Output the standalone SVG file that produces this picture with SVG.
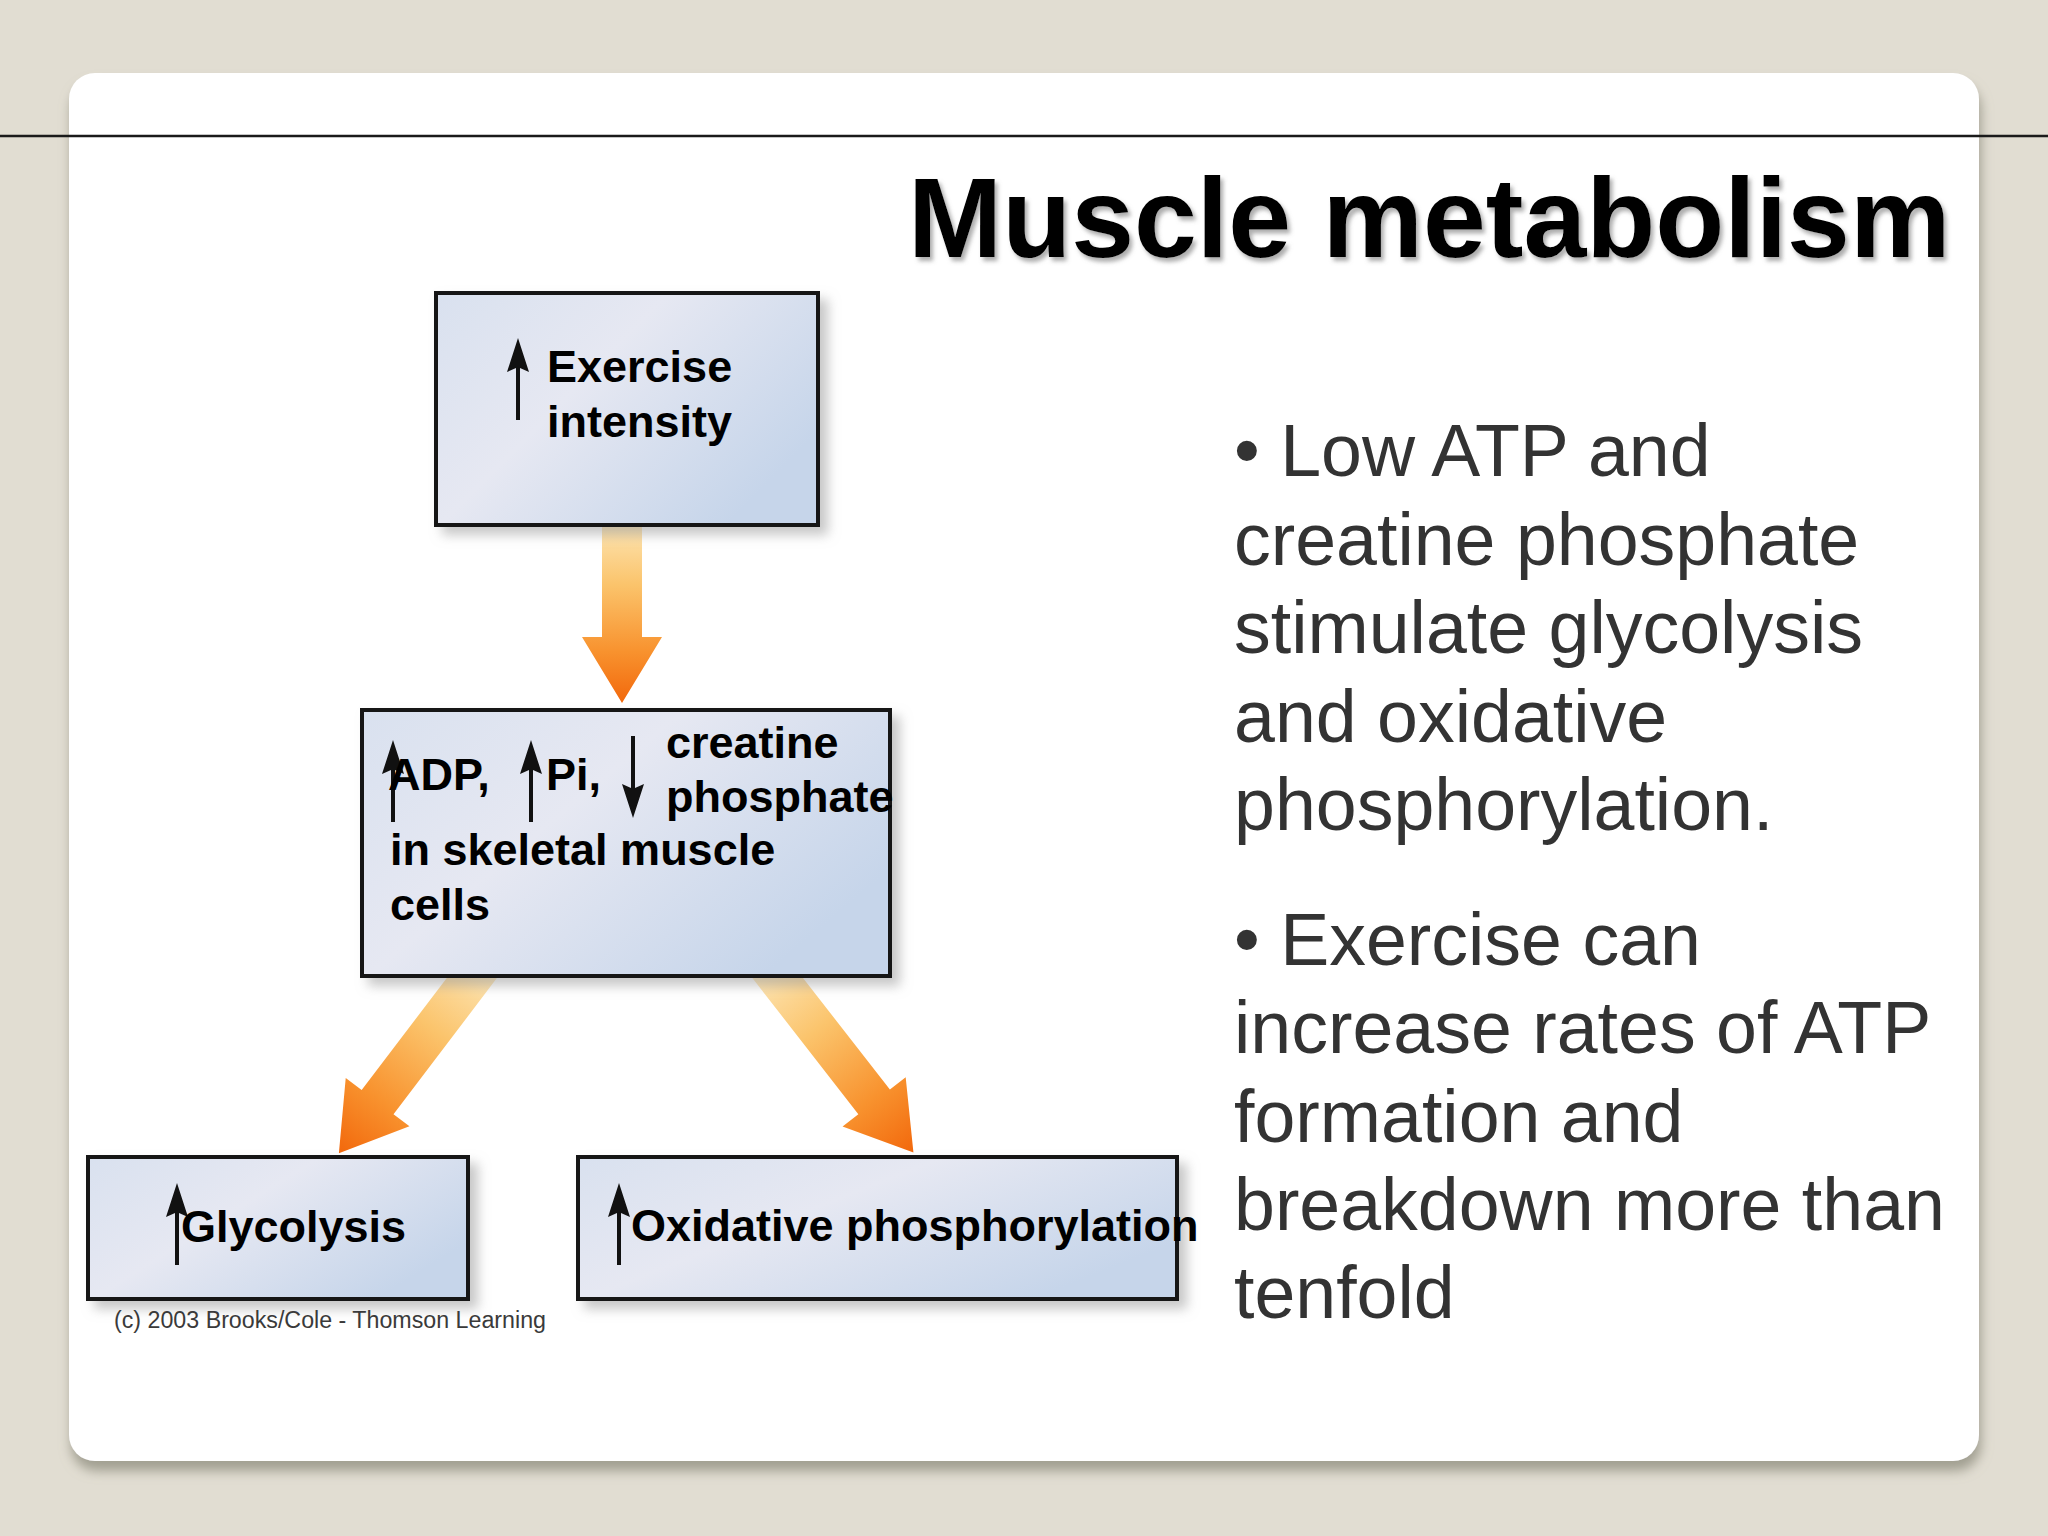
<svg xmlns="http://www.w3.org/2000/svg" width="2048" height="1536" viewBox="0 0 2048 1536">
  <defs>
    <style>
      .box { stroke: #151515; stroke-width: 4; fill: url(#boxFill); }
      .lbl { font-family: "Liberation Sans", Arial, sans-serif; font-weight: bold; font-size: 45px; fill: #000; }
      .body { font-family: "Liberation Sans", Arial, sans-serif; font-size: 73.5px; fill: #333333; }
      .flow { fill: url(#orange); }
      .tiny { fill: #111; }
    </style>
    <linearGradient id="boxFill" x1="0" y1="0" x2="1" y2="0.6">
      <stop offset="0" stop-color="#d9e1ef"/>
      <stop offset="0.45" stop-color="#e6e8f2"/>
      <stop offset="1" stop-color="#c6d5ea"/>
    </linearGradient>
    <linearGradient id="orange" x1="0" y1="0" x2="0" y2="1">
      <stop offset="0" stop-color="#fde7b8"/>
      <stop offset="0.35" stop-color="#fbc46c"/>
      <stop offset="0.72" stop-color="#f8922e"/>
      <stop offset="1" stop-color="#f2680c"/>
    </linearGradient>
    <filter id="cardShadow" x="-5%" y="-5%" width="110%" height="112%">
      <feDropShadow dx="2" dy="10" stdDeviation="6" flood-color="#8c8b7c" flood-opacity="0.75"/>
    </filter>
    <filter id="boxShadow" x="-10%" y="-10%" width="125%" height="135%">
      <feDropShadow dx="8" dy="8" stdDeviation="6" flood-color="#9a9a9a" flood-opacity="0.55"/>
    </filter>
    <filter id="titleShadow" x="-5%" y="-20%" width="110%" height="140%">
      <feDropShadow dx="3" dy="4" stdDeviation="2" flood-color="#777" flood-opacity="0.6"/>
    </filter>
    <path id="upArrow" d="M0,0 L11,34 L2,30 L2,82 L-2,82 L-2,30 L-11,34 Z"/>
  </defs>

  <!-- background and card -->
  <rect x="0" y="0" width="2048" height="1536" fill="#e1ddd2"/>
  <rect x="69" y="73" width="1910" height="1388" rx="26" ry="26" fill="#ffffff" filter="url(#cardShadow)"/>
  <line x1="0" y1="136" x2="2048" y2="136" stroke="#1a1a1a" stroke-width="2.5"/>

  <!-- title -->
  <text x="908" y="257" font-family="Liberation Sans, Arial, sans-serif" font-weight="bold" font-size="113" fill="#000" filter="url(#titleShadow)">Muscle metabolism</text>

  <!-- connectors -->
  <g id="connectors">
    <path class="flow" transform="translate(622,520)" d="M-20,0 L20,0 L20,117 L40,117 L0,183 L-40,117 L-20,117 Z"/>
    <path class="flow" transform="translate(484,962) rotate(37.2)" d="M-20,0 L20,0 L20,176 L40,176 L0,240 L-40,176 L-20,176 Z"/>
    <path class="flow" transform="translate(766,963) rotate(-37.9)" d="M-20,0 L20,0 L20,176 L40,176 L0,240 L-40,176 L-20,176 Z"/>
  </g>

  <!-- nodes -->
  <g id="node-exercise">
    <rect class="box" x="436" y="293" width="382" height="232" filter="url(#boxShadow)"/>
    <use href="#upArrow" class="tiny" x="518" y="338"/>
    <text class="lbl" x="547" y="382">Exercise</text>
    <text class="lbl" x="547" y="437">intensity</text>
  </g>

  <g id="node-cells">
    <rect class="box" x="362" y="710" width="528" height="266" filter="url(#boxShadow)"/>
    <use href="#upArrow" class="tiny" x="393" y="740"/>
    <use href="#upArrow" class="tiny" x="531" y="740"/>
    <use href="#upArrow" class="tiny" transform="translate(633,818) rotate(180)"/>
    <text class="lbl" x="388" y="790">ADP,</text>
    <text class="lbl" x="546" y="790">Pi,</text>
    <text class="lbl" x="666" y="758">creatine</text>
    <text class="lbl" x="666" y="812">phosphate</text>
    <text class="lbl" x="390" y="865">in skeletal muscle</text>
    <text class="lbl" x="390" y="920">cells</text>
  </g>

  <g id="node-glycolysis">
    <rect class="box" x="88" y="1157" width="380" height="142" filter="url(#boxShadow)"/>
    <use href="#upArrow" class="tiny" x="177" y="1183"/>
    <text class="lbl" x="181" y="1242">Glycolysis</text>
  </g>

  <g id="node-oxidative">
    <rect class="box" x="578" y="1157" width="599" height="142" filter="url(#boxShadow)"/>
    <use href="#upArrow" class="tiny" x="619" y="1183"/>
    <text class="lbl" x="631" y="1241">Oxidative phosphorylation</text>
  </g>

  <text x="114" y="1328" font-family="Liberation Sans, Arial, sans-serif" font-size="23" fill="#3a3a3a" textLength="432" lengthAdjust="spacingAndGlyphs">(c) 2003 Brooks/Cole - Thomson Learning</text>

  <!-- bullet text -->
  <g id="bullets">
    <text class="body" x="1234" y="476">• Low ATP and</text>
    <text class="body" x="1234" y="565">creatine phosphate</text>
    <text class="body" x="1234" y="653">stimulate glycolysis</text>
    <text class="body" x="1234" y="742">and oxidative</text>
    <text class="body" x="1234" y="830">phosphorylation.</text>
    <text class="body" x="1234" y="965">• Exercise can</text>
    <text class="body" x="1234" y="1053">increase rates of ATP</text>
    <text class="body" x="1234" y="1142">formation and</text>
    <text class="body" x="1234" y="1230">breakdown more than</text>
    <text class="body" x="1234" y="1318">tenfold</text>
  </g>
</svg>
